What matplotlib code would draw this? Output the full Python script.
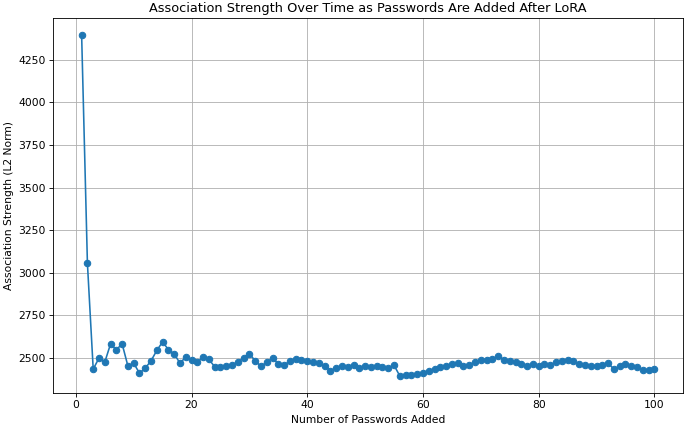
import numpy as np
import matplotlib
matplotlib.use("Agg")
import matplotlib.pyplot as plt

# numero de senhas adicionadas
n_passwords = list(range(1, 101))

# forca de associacao (norma L2)
strength = [
    4395, 3055, 2435, 2500, 2476, 2583, 2549, 2583, 2453, 2470,
    2411, 2441, 2484, 2545, 2595, 2549, 2524, 2470, 2506, 2490,
    2478, 2504, 2492, 2449, 2449, 2451, 2459, 2478, 2500, 2525,
    2484, 2451, 2476, 2500, 2466, 2461, 2480, 2494, 2488, 2480,
    2474, 2470, 2451, 2427, 2441, 2451, 2447, 2461, 2441, 2451,
    2445, 2451, 2447, 2441, 2458, 2395, 2400, 2400, 2405, 2415,
    2425, 2435, 2445, 2455, 2465, 2470, 2455, 2461, 2476, 2490,
    2490, 2494, 2512, 2490, 2480, 2474, 2466, 2451, 2464, 2451,
    2464, 2461, 2474, 2484, 2490, 2480, 2466, 2459, 2451, 2451,
    2461, 2470, 2435, 2451, 2464, 2451, 2445, 2431, 2431, 2437,
]

# figura em escala reduzida (dpi 77) para ficar igual a imagem
dpi = 77
fig = plt.figure(figsize=(685 / dpi, 427 / dpi), dpi=dpi)
ax = fig.add_subplot(111)
fig.subplots_adjust(left=53 / 685, right=683 / 685, top=1 - 18 / 427, bottom=1 - 393 / 427)

ax.plot(n_passwords, strength, marker='o', color='#1f77b4')
ax.set_title('Association Strength Over Time as Passwords Are Added After LoRA')
ax.set_xlabel('Number of Passwords Added')
ax.set_ylabel('Association Strength (L2 Norm)')
ax.grid(True)

fig.savefig('out.png', dpi=dpi)
